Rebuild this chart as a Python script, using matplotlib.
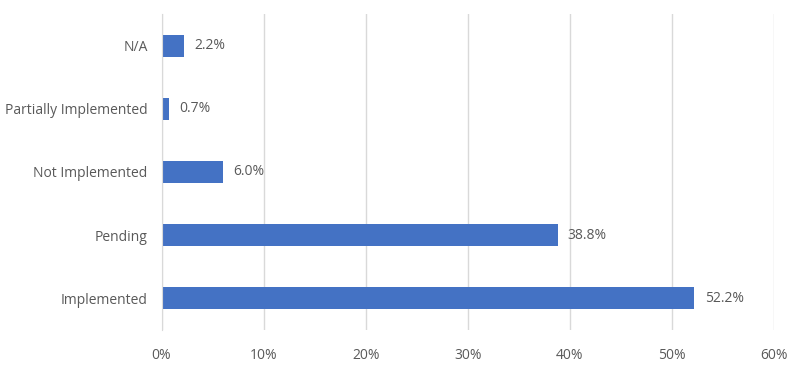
import matplotlib
matplotlib.use("Agg")
import matplotlib.pyplot as plt
from matplotlib.ticker import PercentFormatter

plt.rcParams['font.family'] = ['Open Sans', 'DejaVu Sans']

# data, bottom to top
categories = ["Implemented", "Pending", "Not Implemented", "Partially Implemented", "N/A"]
values = [52.2, 38.8, 6.0, 0.7, 2.2]

bar_color = "#4472C4"
text_color = "#595959"
grid_color = "#D9D9D9"

fig = plt.figure(figsize=(8, 3.68), dpi=100)
ax = fig.add_axes([0.2019, 0.1033, 0.7656, 0.8587])

ypos = range(len(categories))
ax.barh(ypos, values, height=0.35, color=bar_color, zorder=3)
for y, v in zip(ypos, values):
    ax.text(v + 1.0, y, f"{v:.1f}%", va="center", ha="left",
            fontsize=10, color=text_color)

ax.set_xlim(0, 60)
ax.set_ylim(-0.5, len(categories) - 0.5)
ax.set_xticks(range(0, 61, 10))
ax.xaxis.set_major_formatter(PercentFormatter(decimals=0))
ax.set_yticks(list(ypos))
ax.set_yticklabels(categories)
ax.tick_params(axis="both", length=0, labelsize=10, labelcolor=text_color)
ax.tick_params(axis="x", pad=13)
ax.tick_params(axis="y", pad=10)

ax.grid(axis="x", color=grid_color, lw=1, zorder=0)
for s in ["top", "right", "bottom"]:
    ax.spines[s].set_visible(False)
ax.spines["left"].set_color(grid_color)
ax.spines["left"].set_zorder(4)

fig.savefig("out.png", dpi=100)
